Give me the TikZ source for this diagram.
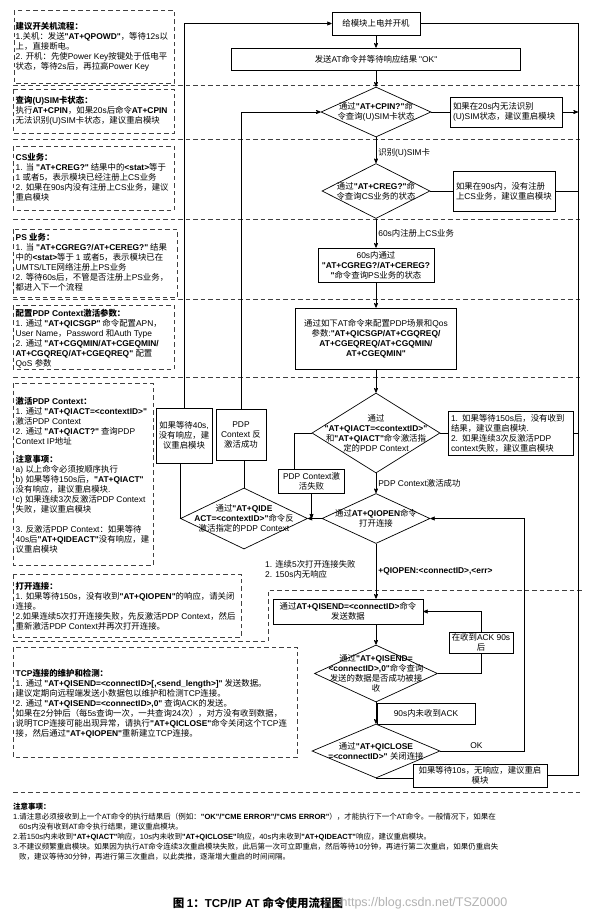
\documentclass[tikz,border=0pt]{standalone}
\usepackage{fontspec}
\setmainfont{Liberation Sans}
\newfontfamily\latinfont{Liberation Sans}
\newfontfamily\cjkfont{Noto Sans CJK SC}
\usepackage{tikz}
\usetikzlibrary{arrows,shapes.geometric}

% Chinese characters go to the CJK font, the rest to Liberation Sans
\newXeTeXintercharclass\cjkcls
\newcount\cjkn
\newcommand\cjkrange[2]{\cjkn=#1\relax
  \loop\XeTeXcharclass\cjkn=\cjkcls
  \ifnum\cjkn<#2\relax\advance\cjkn by 1\relax\repeat}
\cjkrange{"3000}{"303F}
\cjkrange{"4E00}{"9FFF}
\cjkrange{"FF00}{"FFEF}
\XeTeXinterchartoks 0 \cjkcls = {\cjkfont}
\XeTeXinterchartoks 4095 \cjkcls = {\cjkfont}
\XeTeXinterchartoks \cjkcls 0 = {\latinfont}
\XeTeXinterchartoks 4095 0 = {\latinfont}

\newcommand\fs{\fontsize{8.4}{10}\selectfont}
\newcommand\fsn{\fontsize{7.5}{10}\selectfont}

\tikzset{
  box/.style={draw, fill=white, line width=0.7pt, align=center, inner sep=1pt, font=\fs},
  lbox/.style={box, align=left, inner sep=3pt},
  dec/.style={draw, diamond, fill=white, line width=0.7pt, inner sep=0pt},
  dtext/.style={align=center, inner sep=0pt, font=\fs},
  tag/.style={font=\fs, inner sep=2pt},
  note/.style={anchor=north west, align=left, inner sep=0pt, font=\fs},
  sepline/.style={dash pattern=on 4.5pt off 3pt, line width=0.9pt, draw=black!75},
  wire/.style={line width=0.7pt}
}

\begin{document}
\XeTeXinterchartokenstate=1
\begin{tikzpicture}[x=1pt, y=-1pt, >=stealth']
  \fill[white] (0,0) rectangle (596,919);
  \useasboundingbox (0,0) rectangle (596,919);

  \draw[sepline] (13,85.5) -- (583,85.5);
  \draw[sepline] (13,139.5) -- (583,139.5);
  \draw[sepline] (13,219.5) -- (583,219.5);
  \draw[sepline] (13,299.5) -- (583,299.5);
  \draw[sepline] (13,377) -- (583,377);
  \draw[sepline] (13,641) -- (268,641) -- (268,590) -- (583,590);
  \draw[sepline] (13,792) -- (583,792);

  \draw[sepline] (14,10) rectangle (174,83);
  \draw[sepline] (13,89) rectangle (174,133);
  \draw[sepline] (13,146) rectangle (174,210);
  \draw[sepline] (13,229) rectangle (177,297);
  \draw[sepline] (13,305) rectangle (174,369);
  \draw[sepline] (13,383) rectangle (153,565);
  \draw[sepline] (13,574) rectangle (241,637);
  \draw[sepline] (13,647) rectangle (297,757);

  \node[note] (nPower) at (15.5,21.8) {\textbf{建议开关机流程：}\\
    1.关机：发送\textbf{"AT+QPOWD"}，等待12s以\\
    上，直接断电。\\
    2. 开机：先使Power Key按键处于低电平\\
    状态，等待2s后，再拉高Power Key};
  \node[note] (nSim) at (15.5,95.8) {\textbf{查询(U)SIM卡状态：}\\
    执行\textbf{AT+CPIN}，如果20s后命令\textbf{AT+CPIN}\\
    无法识别(U)SIM卡状态，建议重启模块};
  \node[note] (nCs) at (15.5,153) {\textbf{CS业务：}\\
    1. 当 \textbf{"AT+CREG?"} 结果中的\textbf{<stat>}等于\\
    1 或者5，表示模块已经注册上CS业务\\
    2. 如果在90s内没有注册上CS业务，建议\\
    重启模块};
  \node[note] (nPs) at (15.5,233.5) {\textbf{PS 业务：}\\
    1. 当 \textbf{"AT+CGREG?/AT+CEREG?"} 结果\\
    中的\textbf{<stat>}等于 1 或者5，表示模块已在\\
    UMTS/LTE网络注册上PS业务\\
    2. 等待60s后，不管是否注册上PS业务，\\
    都进入下一个流程};
  \node[note] (nCfg) at (15.5,309) {\textbf{配置PDP Context激活参数：}\\
    1. 通过 \textbf{"AT+QICSGP"} 命令配置APN，\\
    User Name，Password 和Auth Type\\
    2. 通过 \textbf{"AT+CGQMIN/AT+CGEQMIN/}\\
    \textbf{AT+CGQREQ/AT+CGEQREQ"} 配置\\
    QoS 参数};
  \node[note] (nAct) at (15.5,397) {\textbf{激活PDP Context：}\\
    1. 通过 \textbf{"AT+QIACT=<contextID>"}\\
    激活PDP Context\\
    2. 通过 \textbf{"AT+QIACT?"} 查询PDP\\
    Context IP地址\\[8pt]
    \textbf{注意事项：}\\
    a) 以上命令必须按顺序执行\\
    b) 如果等待150s后，\textbf{"AT+QIACT"}\\
    没有响应，建议重启模块.\\
    c) 如果连续3次反激活PDP Context\\
    失败，建议重启模块\\[10pt]
    3. 反激活PDP Context：如果等待\\
    40s后\textbf{"AT+QIDEACT"}没有响应，建\\
    议重启模块};
  \node[note] (nOpen) at (15.5,582.5) {\textbf{打开连接：}\\
    1. 如果等待150s，没有收到\textbf{"AT+QIOPEN"}的响应，请关闭\\
    连接。\\
    2.如果连续5次打开连接失败，先反激活PDP Context，然后\\
    重新激活PDP Context并再次打开连接。};
  \node[note] (nTcp) at (15.5,668.5) {\textbf{TCP连接的维护和检测：}\\
    1. 通过 \textbf{"AT+QISEND=<connectID>[,<send\_length>]"} 发送数据。\\
    建议定期向远程端发送小数据包以维护和检测TCP连接。\\
    2. 通过 \textbf{"AT+QISEND=<connectID>,0"} 查询ACK的发送。\\
    如果在2分钟后（每5s查询一次，一共查询24次），对方没有收到数据，\\
    说明TCP连接可能出现异常，请执行\textbf{"AT+QICLOSE"}命令关闭这个TCP连\\
    接，然后通过\textbf{"AT+QIOPEN"}重新建立TCP连接。};

  \node[box, minimum width=88pt, minimum height=23pt] (pwr) at (376,23.5) {给模块上电并开机};
  \node[box, minimum width=289pt, minimum height=22pt] (send) at (376,59) {发送AT命令并等待响应结果 "OK"};
  \node[dec, minimum width=110pt, minimum height=50pt,
    label={[dtext]center:{通过\textbf{"AT+CPIN?"}命\\令查询(U)SIM卡状态}}] (cpin) at (376,112) {};
  \node[lbox, text width=106pt, minimum height=30pt] (simfail) at (506,112) {如果在20s内无法识别\\(U)SIM状态，建议重启模块};
  \node[dec, minimum width=108pt, minimum height=55pt,
    label={[dtext]center:{通过\textbf{"AT+CREG?"}命\\令查询CS业务的状态}}] (creg) at (376,191) {};
  \node[lbox, text width=96pt, minimum height=40pt] (csfail) at (504,191) {如果在90s内，没有注册\\上CS业务，建议重启模块};
  \node[box, minimum width=116pt, minimum height=34pt] (ps) at (376,265) {60s内通过\\\textbf{"AT+CGREG?/AT+CEREG?}\\\textbf{"}命令查询PS业务的状态};
  \node[box, minimum width=161pt, minimum height=61pt] (cfg) at (376,338.5) {通过如下AT命令来配置PDP场景和Qos\\参数:\textbf{"AT+QICSGP/AT+CGQREQ/}\\\textbf{AT+CGEQREQ/AT+CGQMIN/}\\\textbf{AT+CGEQMIN"}};
  \node[dec, minimum width=128pt, minimum height=80pt,
    label={[dtext]center:{通过\\\textbf{"AT+QIACT=<contextID>"}\\和\textbf{"AT+QIACT"}命令激活指\\定的PDP Context}}] (qiact) at (376,433) {};
  \node[lbox, text width=119pt, minimum height=44pt] (actfail) at (510.5,433) {1. 如果等待150s后，没有收到\\结果，建议重启模块.\\2. 如果连续3次反激活PDP\\context失败，建议重启模块};
  \node[box, minimum width=66pt, minimum height=24pt] (pdpfail) at (311.5,481) {PDP Context激\\活失败};
  \node[dec, minimum width=108pt, minimum height=50pt,
    label={[dtext]center:{通过\textbf{AT+QIOPEN}命令\\打开连接}}] (qiopen) at (376,518.5) {};
  \node[dec, minimum width=127pt, minimum height=61pt,
    label={[dtext]center:{通过\textbf{"AT+QIDE}\\\textbf{ACT=<contextID>"}命令反\\激活指定的PDP Context}}] (deact) at (244,518.5) {};
  \node[box, minimum width=56pt, minimum height=55pt] (wait40) at (184,435.5) {如果等待40s,\\没有响应，建\\议重启模块};
  \node[box, minimum width=50pt, minimum height=51pt] (deactok) at (241,434.5) {PDP\\Context 反\\激活成功};
  \node[note] (openerr) at (265,559.8) {1. 连续5次打开连接失败\\2. 150s内无响应};
  \node[box, minimum width=150pt, minimum height=25pt] (qisend) at (348,611.5) {通过\textbf{AT+QISEND=<connectID>}命令\\发送数据};
  \node[dec, minimum width=123pt, minimum height=57pt,
    label={[dtext]center:{通过\textbf{"AT+QISEND=}\\\textbf{<connectID>,0"}命令查询\\发送的数据是否成功被接\\收}}] (chk) at (376,673.5) {};
  \node[box, minimum width=64pt, minimum height=21pt] (ack90) at (481,642.5) {在收到ACK 90s\\后};
  \node[box, minimum width=98pt, minimum height=21pt] (noack) at (426,713.5) {90s内未收到ACK};
  \node[dec, minimum width=128pt, minimum height=54pt,
    label={[dtext]center:{通过\textbf{"AT+QICLOSE}\\\textbf{=<connectID>"} 关闭连接}}] (close) at (376,751) {};
  \node[box, minimum width=134pt, minimum height=23pt] (wait10) at (480,775.5) {如果等待10s，无响应，建议重启\\模块};

  \coordinate (rtop) at (578,23.5);
  \coordinate (rbot) at (578,775.5);

  \path[->, wire] (pwr) edge (send)
    (send) edge (cpin)
    (cpin) edge node[tag, right, pos=0.6] {识别(U)SIM卡} (creg)
    (creg) edge node[tag, right] {60s内注册上CS业务} (ps)
    (ps) edge (cfg)
    (cfg) edge (qiact)
    (qiact) edge node[tag, right] {PDP Context激活成功} (qiopen)
    (qiopen) edge (deact)
    (chk) edge (close);
  \path[-, wire] (cpin) edge (simfail)
    (creg) edge (csfail)
    (qiact) edge (actfail);

  \draw[wire] (pwr.east) -- (rtop) -- (rbot) -- (wait10.east);
  \draw[->, wire] (simfail.east) -- (simfail.east -| rtop);
  \draw[wire] (csfail.east) -- (csfail.east -| rtop);
  \draw[wire] (actfail.east) -- (actfail.east -| rtop);
  \draw[->, wire] (wait40.north) |- (pwr.west);
  \draw[->, wire] (deactok.north) |- (cpin.west);
  \draw[wire] (deact.west |- wait40.south) -- (deact.west);
  \draw[wire] (deact.north |- deactok.south) -- (deact.north);
  \draw[wire] (qiact.west) -| ([xshift=-17.5pt]pdpfail.north);
  \draw[->, wire] (pdpfail.south) -- (pdpfail.south |- qiopen.west);
  \draw[->, wire] (qiopen) -- node[tag, right, font=\fs\bfseries] {+QIOPEN:<connectID>,<err>} (qiopen |- qisend.north);
  \draw[->, wire] (chk.north |- qisend.south) -- (chk);
  \draw[wire] (chk.east) -| (ack90.south);
  \draw[->, wire] (ack90.north) |- (qisend.east);
  \draw[->, wire] (close.east) -- node[tag, above, pos=0.43] {OK} ++(84,0) |- (qiopen.east);
  \draw[wire] (close.south) -- (close.south -| wait10.west);

  \node[note, font=\fsn] (nTail) at (13,803) {\textbf{注意事项：}\\
    1.请注意必须接收到上一个AT命令的执行结果后（例如：\textbf{"OK"/"CME ERROR"/"CMS ERROR"}），才能执行下一个AT命令。一般情况下，如果在\\
    \hspace*{6pt}60s内没有收到AT命令执行结果，建议重启模块。\\
    2.若150s内未收到\textbf{"AT+QIACT"}响应，10s内未收到\textbf{"AT+QICLOSE"}响应，40s内未收到\textbf{"AT+QIDEACT"}响应，建议重启模块。\\
    3.不建议频繁重启模块。如果因为执行AT命令连续3次重启模块失败，此后第一次可立即重启，然后等待10分钟，再进行第二次重启，如果仍重启失\\
    \hspace*{6pt}败，建议等待30分钟，再进行第三次重启，以此类推，逐渐增大重启的时间间隔。};
  \node[font=\fontsize{11.5}{12}\selectfont\bfseries] (cap) at (258,903) {图 1：TCP/IP AT 命令使用流程图};
  \node[font=\fontsize{12.5}{13}\selectfont, text=black!30] (wm) at (424,903) {https://blog.csdn.net/TSZ0000};
\end{tikzpicture}
\end{document}
